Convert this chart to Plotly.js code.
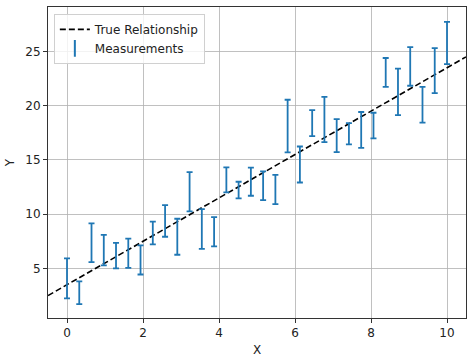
<!DOCTYPE html>
<html>
<head>
<meta charset="utf-8">
<script src="https://cdn.plot.ly/plotly-3.0.1.min.js"></script>
<style>html,body{margin:0;padding:0;background:#fff;}#chart{width:474px;height:363px;}</style>
</head>
<body>
<div id="chart"></div>
<script>
// Measurement x positions (32 evenly spaced points from 0 to 10)
const xValues = [0.000, 0.323, 0.645, 0.968, 1.290, 1.613, 1.935, 2.258, 2.581, 2.903, 3.226, 3.548, 3.871, 4.194, 4.516, 4.839,
                 5.161, 5.484, 5.806, 6.129, 6.452, 6.774, 7.097, 7.419, 7.742, 8.065, 8.387, 8.710, 9.032, 9.355, 9.677, 10.000];
// Measured values (bar centres)
const yValues = [4.08, 2.76, 7.37, 6.69, 6.18, 6.40, 5.78, 8.26, 9.38, 7.92, 12.07, 8.64, 8.38, 13.16, 12.22, 13.00,
                 12.62, 12.28, 18.12, 14.58, 18.40, 18.73, 17.24, 17.41, 17.77, 18.17, 23.07, 21.27, 23.62, 20.09, 23.23, 25.78];
// Measurement uncertainties (half-lengths of the bars)
const yErrors = [1.84, 1.05, 1.79, 1.41, 1.18, 1.34, 1.34, 1.05, 1.46, 1.66, 1.81, 1.83, 1.35, 1.15, 0.77, 1.30,
                 1.32, 1.35, 2.43, 1.66, 1.20, 2.09, 1.52, 0.98, 1.65, 1.18, 1.33, 2.14, 1.78, 1.65, 2.07, 1.95];
// True relationship line endpoints
const lineX = [-0.5, 10.5];
const lineY = [2.5, 24.5];

const seriesNames = ["True Relationship", "Measurements"];
const xTicks = [0, 2, 4, 6, 8, 10];
const yTicks = [5, 10, 15, 20, 25];

const blue = "#1f77b4";
const font = {family: "DejaVu Sans, sans-serif", size: 12, color: "#222"};

const traces = [
  {
    x: lineX, y: lineY, type: "scatter", mode: "lines", name: seriesNames[0],
    line: {color: "#000", width: 1.6, dash: "6px,3px"}
  },
  {
    x: xValues, y: yValues, type: "scatter", mode: "markers", name: seriesNames[1],
    showlegend: false,
    marker: {size: 1, color: "rgba(0,0,0,0)"},
    error_y: {type: "data", array: yErrors, visible: true, color: blue, thickness: 1.8, width: 3}
  },
  {
    // legend-only entry for the measurements (error-bar glyph)
    x: [null], y: [null], type: "scatter", mode: "markers", name: seriesNames[1],
    marker: {symbol: "line-ns-open", size: 12, color: blue, line: {color: blue, width: 2}}
  }
];

const axisCommon = {
  showline: true, linecolor: "#333", linewidth: 1, mirror: true,
  ticks: "outside", ticklen: 4, tickcolor: "#333", tickwidth: 1,
  showgrid: true, gridcolor: "#b0b0b0", gridwidth: 0.8,
  zeroline: false, tickfont: font
};

const layout = {
  width: 474, height: 363,
  margin: {l: 48, r: 8, t: 7, b: 45},
  paper_bgcolor: "#fff", plot_bgcolor: "#fff",
  font: font,
  showlegend: true,
  legend: {
    x: 0.014, y: 0.978, xanchor: "left", yanchor: "top",
    bgcolor: "rgba(255,255,255,0.8)", bordercolor: "#d0d0d0", borderwidth: 1,
    font: font, tracegroupgap: 0, itemwidth: 30
  },
  xaxis: Object.assign({}, axisCommon, {
    range: [-0.5, 10.5], tickvals: xTicks, ticktext: xTicks.map(String),
    title: {text: "X", font: font, standoff: 6}
  }),
  yaxis: Object.assign({}, axisCommon, {
    range: [0.43, 29.1], tickvals: yTicks, ticktext: yTicks.map(String),
    title: {text: "Y", font: font, standoff: 8}
  })
};

Plotly.newPlot("chart", traces, layout, {displayModeBar: false, staticPlot: true});
</script>
</body>
</html>
